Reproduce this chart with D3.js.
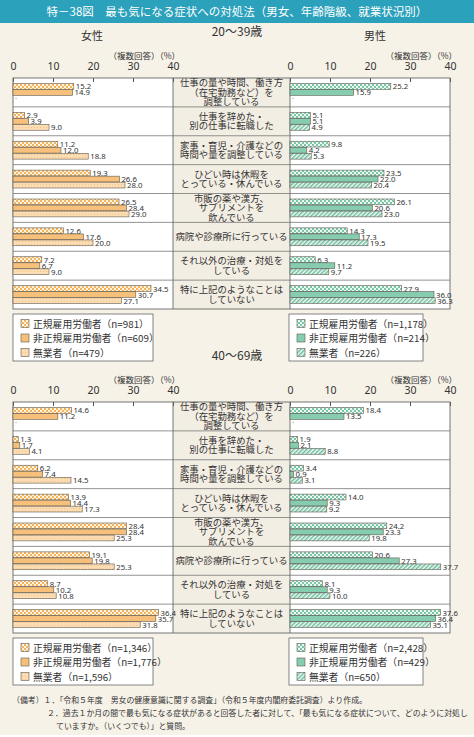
<!DOCTYPE html>
<html>
<head>
<meta charset="utf-8">
<script src="https://cdn.jsdelivr.net/npm/d3@7"></script>
<style>
  body { margin: 0; background: #fff; }
  svg { display: block; font-family: "Noto Sans CJK JP", "Noto Sans", sans-serif; }
</style>
</head>
<body>
<div id="chart"><svg width="474" height="737"></svg></div>
<script>
// categories (center column), top to bottom
var categories = [
  "仕事の量や時間、働き方\n（在宅勤務など）を\n調整している",
  "仕事を辞めた・\n別の仕事に転職した",
  "家事・育児・介護などの\n時間や量を調整している",
  "ひどい時は休暇を\nとっている・休んでいる",
  "市販の薬や漢方、\nサプリメントを\n飲んでいる",
  "病院や診療所に行っている",
  "それ以外の治療・対処を\nしている",
  "特に上記のようなことは\nしていない"
];
var seriesKeys = ["正規雇用労働者", "非正規雇用労働者", "無業者"];
var ticks = [0, 10, 20, 30, 40];

// 20~39 years (null = not applicable)
var f2039Regular    = [15.2, 2.9, 11.2, 19.3, 26.5, 12.6, 7.2, 34.5];
var f2039NonRegular = [14.9, 3.9, 12.0, 26.6, 28.4, 17.6, 6.7, 30.7];
var f2039None       = [null, 9.0, 18.8, 28.0, 29.0, 20.0, 9.0, 27.1];
var m2039Regular    = [25.2, 5.1, 9.8, 23.5, 26.1, 14.3, 6.3, 27.9];
var m2039NonRegular = [15.9, 5.1, 4.2, 22.0, 20.6, 17.3, 11.2, 36.0];
var m2039None       = [null, 4.9, 5.3, 20.4, 23.0, 19.5, 9.7, 36.3];
var f2039N = ["981", "609", "479"];
var m2039N = ["1,178", "214", "226"];

// 40~69 years
var f4069Regular    = [14.6, 1.3, 6.2, 13.9, 28.4, 19.1, 8.7, 36.4];
var f4069NonRegular = [11.2, 1.7, 7.4, 14.4, 28.4, 19.8, 10.2, 35.7];
var f4069None       = [null, 4.1, 14.5, 17.3, 25.3, 25.3, 10.8, 31.8];
var m4069Regular    = [18.4, 1.9, 3.4, 14.0, 24.2, 20.6, 8.1, 37.6];
var m4069NonRegular = [13.5, 2.1, 0.9, 9.3, 23.3, 27.3, 9.3, 36.4];
var m4069None       = [null, 8.8, 3.1, 9.2, 19.8, 37.7, 10.0, 35.1];
var f4069N = ["1,346", "1,776", "1,596"];
var m4069N = ["2,428", "429", "650"];

var svg = d3.select('#chart').select('svg');
var fmt = d3.format(".1f");

// patterns
var defs = svg.append('defs');
function checker(id, c1, c2){
  var p = defs.append('pattern').attr('id', id).attr('width', 4).attr('height', 4)
    .attr('patternUnits', 'userSpaceOnUse');
  p.append('rect').attr('width', 4).attr('height', 4).attr('fill', c2);
  p.append('rect').attr('width', 2).attr('height', 2).attr('fill', c1);
  p.append('rect').attr('x', 2).attr('y', 2).attr('width', 2).attr('height', 2).attr('fill', c1);
}
checker('fReg', '#f2b45e', '#fff4e0');
checker('mReg', '#7cc6a8', '#eef8f3');
var pd = defs.append('pattern').attr('id', 'fNone').attr('width', 3).attr('height', 3)
  .attr('patternUnits', 'userSpaceOnUse');
pd.append('rect').attr('width', 3).attr('height', 3).attr('fill', '#fcdcb2');
pd.append('circle').attr('cx', 1.5).attr('cy', 1.5).attr('r', 0.5).attr('fill', '#efb877');
var ps = defs.append('pattern').attr('id', 'mNone').attr('width', 3).attr('height', 3)
  .attr('patternUnits', 'userSpaceOnUse').attr('patternTransform', 'rotate(45)');
ps.append('rect').attr('width', 3).attr('height', 3).attr('fill', '#f3faf7');
ps.append('rect').attr('width', 1.5).attr('height', 3).attr('fill', '#6dbd9c');

var femaleFills = ['url(#fReg)', '#f6c07a', 'url(#fNone)'];
var maleFills = ['url(#mReg)', '#86cdb0', 'url(#mNone)'];

// background + title
svg.append('rect').attr('width', 474).attr('height', 735).attr('fill', '#f6f2e8');
svg.append('rect').attr('width', 474).attr('height', 23).attr('fill', '#2ba1bb');
svg.append('text').attr('x', 237).attr('y', 16).attr('text-anchor', 'middle')
  .attr('fill', '#fff').attr('font-size', 11.5)
  .text('特－38図　最も気になる症状への対処法（男女、年齢階級、就業状況別）');

svg.append('text').attr('x', 92).attr('y', 40).attr('text-anchor', 'middle')
  .attr('font-size', 11).attr('fill', '#333').text('女性');
svg.append('text').attr('x', 375).attr('y', 40).attr('text-anchor', 'middle')
  .attr('font-size', 11).attr('fill', '#333').text('男性');

var xLeft = d3.scaleLinear().domain([0, 40]).range([13, 173]);
var xRight = d3.scaleLinear().domain([0, 40]).range([290, 450]);

function panel(cfg){
  var top = cfg.top, bottom = cfg.bottom;
  var g = svg.append('g');
  var y = d3.scaleBand().domain(categories).range([top, bottom]);
  var rowH = y.bandwidth();
  var yIn = d3.scaleBand().domain(seriesKeys).range([5.5, rowH - 5.5]).paddingInner(0.04);

  g.append('text').attr('x', 237).attr('y', top - 42).attr('text-anchor', 'middle')
    .attr('font-size', 12).attr('fill', '#333').text(cfg.age);

  // plot areas and center column
  g.append('rect').attr('x', xLeft(0)).attr('y', top).attr('width', xLeft(40) - xLeft(0))
    .attr('height', bottom - top).attr('fill', '#fff');
  g.append('rect').attr('x', xRight(0)).attr('y', top).attr('width', xRight(40) - xRight(0))
    .attr('height', bottom - top).attr('fill', '#fff');
  g.append('rect').attr('x', xLeft(40)).attr('y', top).attr('width', xRight(0) - xLeft(40))
    .attr('height', bottom - top).attr('fill', '#f3eee3');

  [xLeft, xRight].forEach(function(x){
    var ax = g.append('g').attr('transform', 'translate(0,' + top + ')')
      .call(d3.axisTop(x).tickValues(ticks).tickSize(-4).tickPadding(8));
    ax.select('.domain').remove();
    ax.selectAll('line').attr('stroke', '#555');
    ax.selectAll('text').attr('font-size', 10.5).attr('fill', '#333')
      .attr('font-family', '"Noto Sans", sans-serif');
    g.append('text').attr('x', x(40) + 7).attr('y', top - 19).attr('text-anchor', 'end')
      .attr('font-size', 8.5).attr('fill', '#333').text('（複数回答）（%）');
  });

  // row lines
  g.selectAll('.row').data(categories.slice(1)).enter().append('line')
    .attr('x1', xLeft(0)).attr('x2', xRight(40))
    .attr('y1', function(d){ return y(d); }).attr('y2', function(d){ return y(d); })
    .attr('stroke', '#777').attr('stroke-width', 0.8);
  g.append('rect').attr('x', xLeft(0)).attr('y', top).attr('width', xRight(40) - xLeft(0))
    .attr('height', bottom - top).attr('fill', 'none').attr('stroke', '#666').attr('stroke-width', 0.9);
  [xLeft(40), xRight(0)].forEach(function(xx){
    g.append('line').attr('x1', xx).attr('x2', xx).attr('y1', top).attr('y2', bottom)
      .attr('stroke', '#666').attr('stroke-width', 0.9);
  });

  // category labels
  categories.forEach(function(c){
    var lines = c.split('\n');
    var lh = 9.6;
    var cy = y(c) + rowH / 2 - (lines.length - 1) * lh / 2 + 3.3;
    var t = g.append('text').attr('text-anchor', 'middle').attr('font-size', 9.4).attr('fill', '#333');
    lines.forEach(function(l, i){
      t.append('tspan').attr('x', (xLeft(40) + xRight(0)) / 2).attr('y', cy + i * lh).text(l);
    });
  });

  bars(g, xLeft, y, yIn, cfg.female, femaleFills);
  bars(g, xRight, y, yIn, cfg.male, maleFills);

  legend(g, 13, bottom + 5, 140, cfg.fN, femaleFills);
  legend(g, 289, bottom + 5, 134, cfg.mN, maleFills);
}

function bars(g, x, y, yIn, series, fills){
  series.forEach(function(vals, s){
    vals.forEach(function(v, i){
      var by = y(categories[i]) + yIn(seriesKeys[s]);
      var bh = yIn.bandwidth();
      if (v === null) {
        g.append('text').attr('x', x(0) + 2).attr('y', by + bh / 2 + 1.5)
          .attr('font-size', 6).attr('fill', '#555').text('-');
        return;
      }
      g.append('rect').attr('x', x(0)).attr('y', by).attr('width', x(v) - x(0))
        .attr('height', bh).attr('fill', fills[s]).attr('stroke', '#5e5a52').attr('stroke-width', 0.6);
      g.append('text').attr('x', x(v) + 2).attr('y', by + bh / 2 + 3)
        .attr('font-size', 7.8).attr('fill', '#333')
        .attr('font-family', '"Noto Sans", sans-serif').text(fmt(v));
    });
  });
}

function legend(g, lx, ly, lw, ns, fills){
  g.append('rect').attr('x', lx).attr('y', ly).attr('width', lw).attr('height', 47)
    .attr('fill', '#fff').attr('stroke', '#666').attr('stroke-width', 0.8);
  seriesKeys.forEach(function(k, i){
    var yy = ly + 10 + i * 14.5;
    g.append('rect').attr('x', lx + 8).attr('y', yy - 4.5).attr('width', 8).attr('height', 8)
      .attr('fill', fills[i]).attr('stroke', '#5e5a52').attr('stroke-width', 0.6);
    g.append('text').attr('x', lx + 20).attr('y', yy + 3.5).attr('font-size', 9.8)
      .attr('fill', '#333').text(k + '（n=' + ns[i] + '）');
  });
}

panel({
  age: '20～39歳', top: 78, bottom: 309,
  female: [f2039Regular, f2039NonRegular, f2039None],
  male: [m2039Regular, m2039NonRegular, m2039None],
  fN: f2039N, mN: m2039N
});
panel({
  age: '40～69歳', top: 402, bottom: 633,
  female: [f4069Regular, f4069NonRegular, f4069None],
  male: [m4069Regular, m4069NonRegular, m4069None],
  fN: f4069N, mN: m4069N
});

// notes
var notes = svg.append('g').attr('font-size', 7.9).attr('fill', '#333');
notes.append('text').attr('x', 12).attr('y', 703)
  .text('（備考）１．「令和５年度　男女の健康意識に関する調査」（令和５年度内閣府委託調査）より作成。');
notes.append('text').attr('x', 47).attr('y', 716)
  .text('２．過去１か月の間で最も気になる症状があると回答した者に対して、「最も気になる症状について、どのように対処し');
notes.append('text').attr('x', 56).attr('y', 729)
  .text('ていますか。（いくつでも）」と質問。');
</script>
</body>
</html>
